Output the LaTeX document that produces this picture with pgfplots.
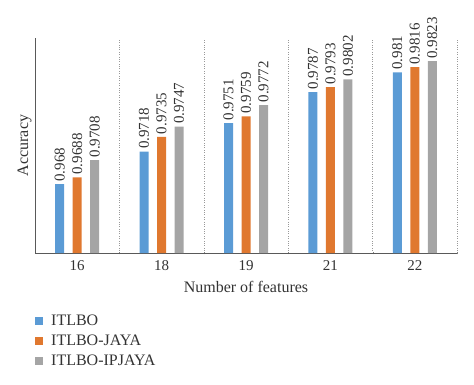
\documentclass[border=0pt]{standalone}
\usepackage{pgfplots}
\pgfplotsset{compat=1.18}
\usepackage{fontspec}
\setmainfont{Liberation Serif}
\definecolor{cblue}{HTML}{5B9BD5}
\definecolor{corange}{HTML}{E0782F}
\definecolor{cgray}{HTML}{A5A5A5}
\definecolor{txt}{HTML}{333333}
\begin{document}
\begin{tikzpicture}
\begin{axis}[
  name=ax, at={(0,0)}, anchor=south west,
  scale only axis, width=422bp, height=215bp,
  ymin=0.96, ymax=0.985, xmin=-0.5, xmax=4.5,
  ybar=8.5bp, bar width=9bp,
  axis x line=bottom, axis y line=left,
  axis line style={-, draw=black!65, line width=0.8pt},
  xtick={0,1,2,3,4}, xticklabels={16,18,19,21,22},
  ytick=\empty, major tick length=0pt,
  minor xtick={0.5,1.5,2.5,3.5,4.5}, xminorgrids=true,
  minor grid style={black!40, dotted, line width=0.6pt},
  /pgf/number format/assume math mode=true,
  tick label style={font=\fontsize{15bp}{17bp}\selectfont, text=txt},
  xticklabel style={yshift=-4bp},
  xlabel={Number of features}, ylabel={Accuracy},
  label style={font=\fontsize{16bp}{18bp}\selectfont, text=txt},
  xlabel style={yshift=-4bp},
  ylabel style={yshift=0bp},
  nodes near coords={\pgfmathprintnumber[fixed,precision=4]{\pgfplotspointmeta}},
  every node near coord/.append style={rotate=90, anchor=west, font=\fontsize{15bp}{16bp}\selectfont, text=txt, inner sep=2.5bp},
  clip=false,
  legend style={at={(axis description cs:0,0)}, anchor=north west, yshift=-58bp, xshift=-3bp,
    draw=none, fill=none, font=\fontsize{16bp}{18bp}\selectfont, text=txt,
    row sep=4bp, column sep=6bp,
    nodes={inner sep=2bp}},
  legend cell align=left,
  legend image code/.code={\fill[#1] (0bp,-4bp) rectangle (8bp,4bp);},
]
\addplot[fill=cblue, draw=none] coordinates {(0,0.968) (1,0.9718) (2,0.9751) (3,0.9787) (4,0.981)};
\addplot[fill=corange, draw=none] coordinates {(0,0.9688) (1,0.9735) (2,0.9759) (3,0.9793) (4,0.9816)};
\addplot[fill=cgray, draw=none] coordinates {(0,0.9708) (1,0.9747) (2,0.9772) (3,0.9802) (4,0.9823)};
\legend{ITLBO, ITLBO-JAYA, ITLBO-IPJAYA}
\end{axis}
\path (ax.south west) ++(-35bp,-131bp) coordinate (bl);
\path (ax.north east) ++(17bp,38bp) coordinate (tr);
\pgfresetboundingbox
\path[use as bounding box] (bl) rectangle (tr);
\end{tikzpicture}
\end{document}
